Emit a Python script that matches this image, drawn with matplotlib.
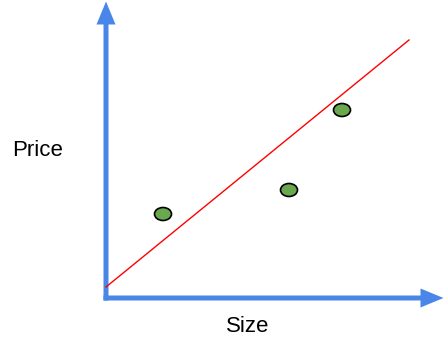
import matplotlib
matplotlib.use('Agg')
import matplotlib.pyplot as plt
from matplotlib.patches import Ellipse

# data (origin at the axes corner, units ~ pixels)
point_x = [57, 183, 236]
point_y = [84, 108, 188]
line_x = [0, 303]
line_y = [11, 258]

fig = plt.figure(figsize=(4.47, 3.57), dpi=100)
ax = fig.add_axes([0, 0, 1, 1])
ax.set_xlim(-106, 341)
ax.set_ylim(-59, 298)
ax.axis('off')

blue = '#4a86e8'
ax.arrow(-2.5, 0, 340, 0, width=5, head_width=19, head_length=23,
         length_includes_head=True, color=blue, lw=0)
ax.arrow(0, -2.5, 0, 299, width=5, head_width=19, head_length=23,
         length_includes_head=True, color=blue, lw=0)

ax.plot(line_x, line_y, color='red', lw=1.0, zorder=3)

for x, y in zip(point_x, point_y):
    ax.add_patch(Ellipse((x, y), 17, 13, facecolor='#6aa84f',
                         edgecolor='black', lw=1.2, zorder=4))

ax.text(-68, 147, 'Price', fontsize=16, family='Liberation Sans',
        ha='center', va='center')
ax.text(142, -29, 'Size', fontsize=16, family='Liberation Sans',
        ha='center', va='center')

fig.savefig('out.png', dpi=100)
